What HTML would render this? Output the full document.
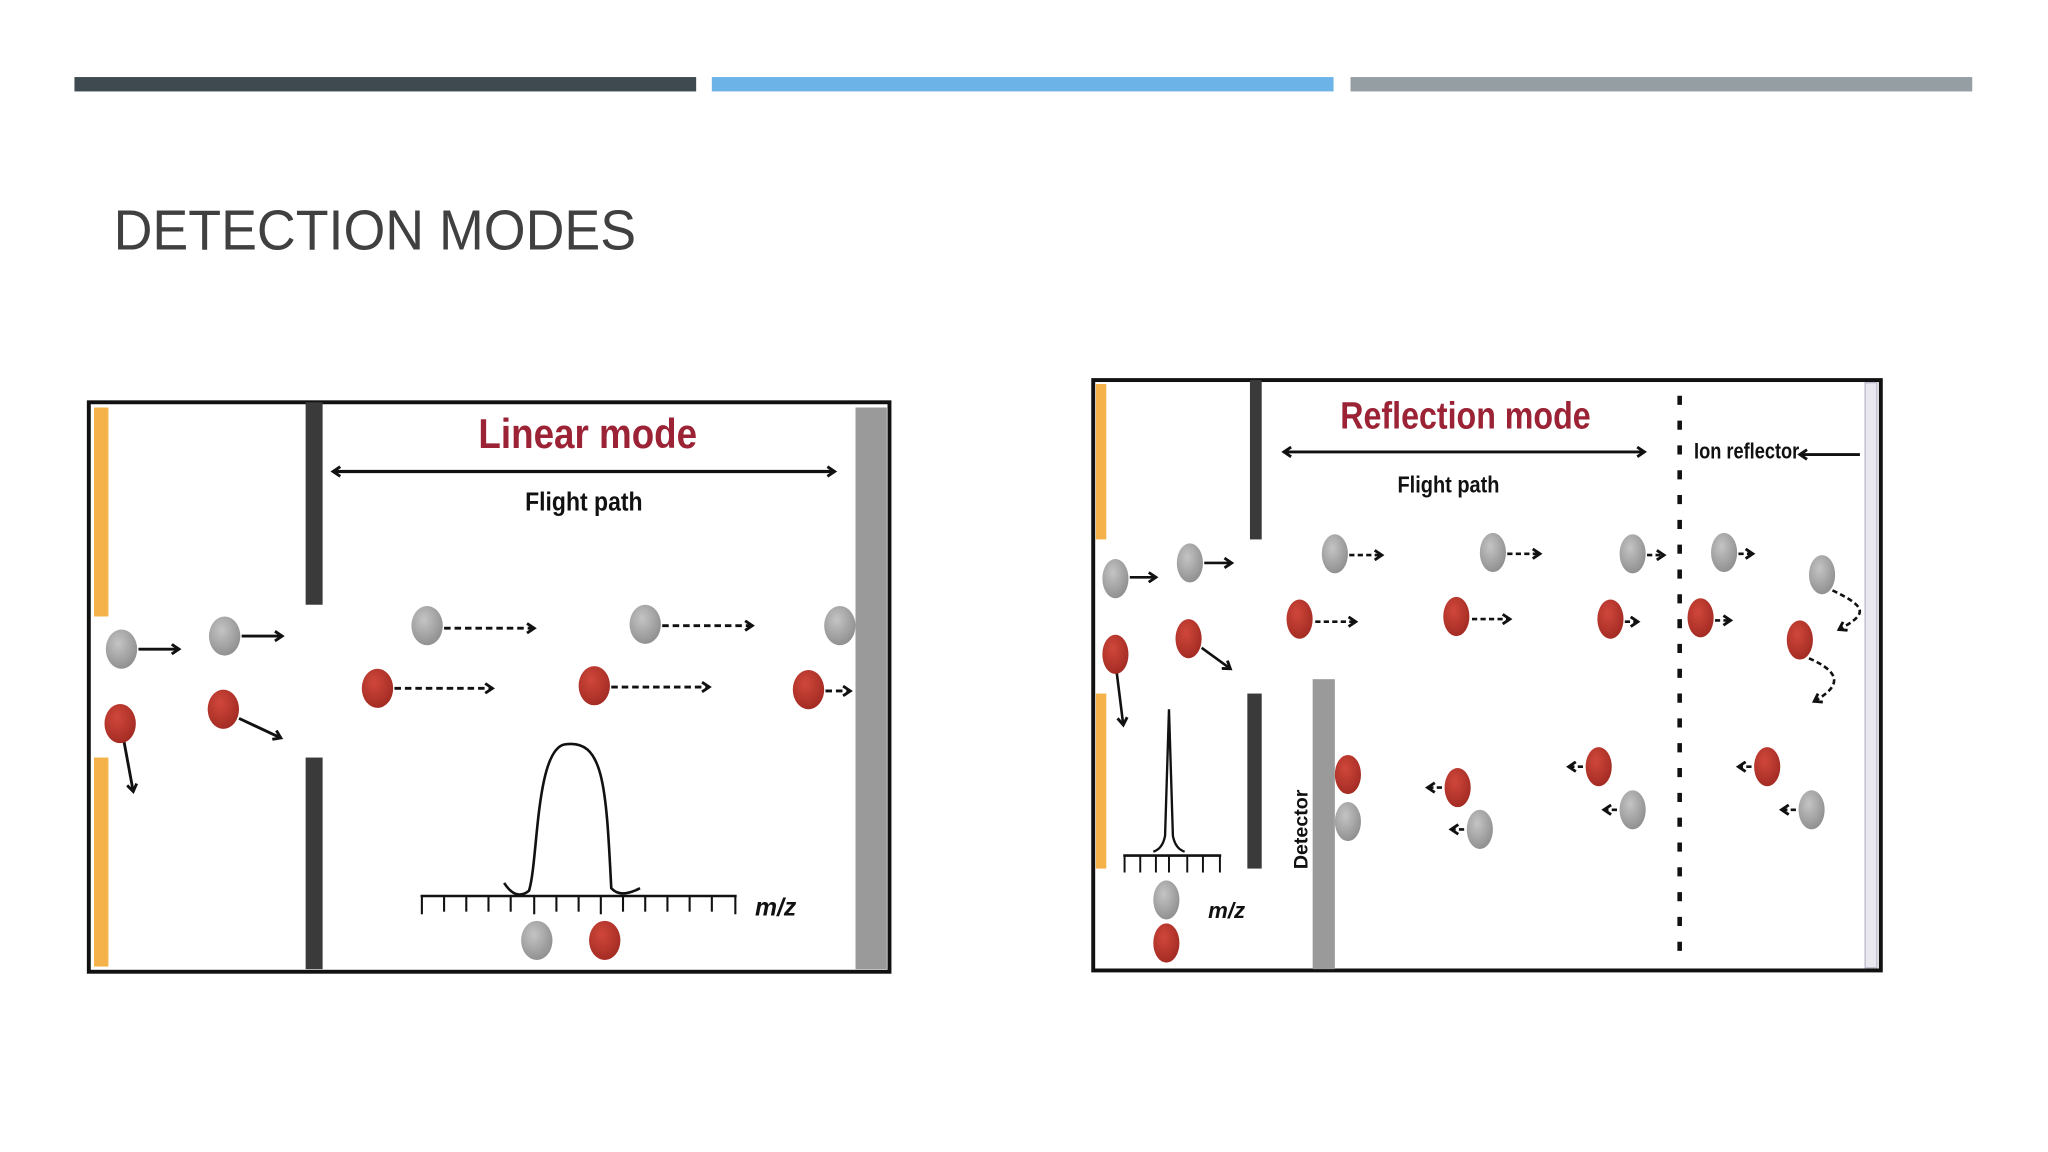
<!DOCTYPE html>
<html><head><meta charset="utf-8"><style>
html,body{margin:0;padding:0;background:#fff;}
svg{display:block;}
text{font-family:"Liberation Sans",sans-serif;}
</style></head><body>
<svg width="2048" height="1152" viewBox="0 0 1568 882" xmlns="http://www.w3.org/2000/svg">
<defs>
<marker id="a" markerWidth="9" markerHeight="9" refX="6.5" refY="4.5" orient="auto-start-reverse" markerUnits="userSpaceOnUse"><path d="M1,0.8 L6.5,4.5 L1,8.2" fill="none" stroke="#111" stroke-width="2.2"/></marker>
<radialGradient id="g" cx="0.4" cy="0.35" r="0.7"><stop offset="0" stop-color="#c4c4c4"/><stop offset="1" stop-color="#8d8d8d"/></radialGradient>
<radialGradient id="r" cx="0.4" cy="0.35" r="0.7"><stop offset="0" stop-color="#d0473b"/><stop offset="1" stop-color="#a12a22"/></radialGradient>
</defs>
<rect x="57" y="59" width="476" height="11" fill="#3e4a50"/>
<rect x="545" y="59" width="476" height="11" fill="#6cb4e8"/>
<rect x="1034" y="59" width="476" height="11" fill="#959ea3"/>
<text x="87" y="191" font-size="43" fill="#404040" textLength="400" lengthAdjust="spacingAndGlyphs">DETECTION MODES</text>

<!-- Left diagram -->
<rect x="68" y="308" width="613" height="436" fill="#fff" stroke="#111" stroke-width="3"/>
<rect x="72" y="312" width="11" height="160" fill="#f6b24a"/>
<rect x="72" y="580" width="11" height="160" fill="#f6b24a"/>
<rect x="234" y="308" width="13" height="155" fill="#3a3a3a"/>
<rect x="234" y="580" width="13" height="162" fill="#3a3a3a"/>
<rect x="655" y="312" width="24" height="430" fill="#9a9a9a"/>
<text x="450" y="343" font-size="32" font-weight="bold" fill="#9b2335" text-anchor="middle" transform="translate(450 0) scale(0.88 1) translate(-450 0)">Linear mode</text>
<line x1="255" y1="361" x2="639" y2="361" stroke="#111" stroke-width="2.5" marker-end="url(#a)" marker-start="url(#a)"/>
<text x="447" y="391" font-size="20" font-weight="bold" fill="#111" text-anchor="middle" transform="translate(447 0) scale(0.88 1) translate(-447 0)">Flight path</text>
<g stroke="#111" stroke-width="2.2" fill="none">
<line x1="106" y1="497" x2="137" y2="497" marker-end="url(#a)"/>
<line x1="185" y1="487" x2="216" y2="487" marker-end="url(#a)"/>
<line x1="95" y1="568" x2="102" y2="606" marker-end="url(#a)"/>
<line x1="183" y1="550" x2="215" y2="565" marker-end="url(#a)"/>
<g stroke-dasharray="5 3">
<line x1="340" y1="481" x2="409" y2="481" marker-end="url(#a)"/>
<line x1="507" y1="479" x2="576" y2="479" marker-end="url(#a)"/>
<line x1="302" y1="527" x2="377" y2="527" marker-end="url(#a)"/>
<line x1="468" y1="526" x2="543" y2="526" marker-end="url(#a)"/>
<line x1="632" y1="529" x2="651" y2="529" marker-end="url(#a)"/>
</g>
</g>
<ellipse cx="93" cy="497" rx="12" ry="15" fill="url(#g)"/>
<ellipse cx="172" cy="487" rx="12" ry="15" fill="url(#g)"/>
<ellipse cx="92" cy="554" rx="12" ry="15" fill="url(#r)"/>
<ellipse cx="171" cy="543" rx="12" ry="15" fill="url(#r)"/>
<ellipse cx="327" cy="479" rx="12" ry="15" fill="url(#g)"/>
<ellipse cx="494" cy="478" rx="12" ry="15" fill="url(#g)"/>
<ellipse cx="643" cy="479" rx="12" ry="15" fill="url(#g)"/>
<ellipse cx="289" cy="527" rx="12" ry="15" fill="url(#r)"/>
<ellipse cx="455" cy="525" rx="12" ry="15" fill="url(#r)"/>
<ellipse cx="619" cy="528" rx="12" ry="15" fill="url(#r)"/>
<path d="M386,676 Q395,690 405,682 C412,660 410,575 432,570 C462,565 464,600 468,680 Q475,688 490,680" fill="none" stroke="#111" stroke-width="2"/>
<line x1="322" y1="686" x2="564" y2="686" stroke="#111" stroke-width="2"/>
<g stroke="#111" stroke-width="1.6">
<line x1="323" y1="686" x2="323" y2="700"/><line x1="340" y1="686" x2="340" y2="698"/><line x1="357" y1="686" x2="357" y2="698"/><line x1="374" y1="686" x2="374" y2="698"/><line x1="391" y1="686" x2="391" y2="698"/><line x1="409" y1="686" x2="409" y2="700"/><line x1="426" y1="686" x2="426" y2="698"/><line x1="443" y1="686" x2="443" y2="698"/><line x1="460" y1="686" x2="460" y2="700"/><line x1="477" y1="686" x2="477" y2="698"/><line x1="494" y1="686" x2="494" y2="698"/><line x1="511" y1="686" x2="511" y2="698"/><line x1="528" y1="686" x2="528" y2="698"/><line x1="545" y1="686" x2="545" y2="698"/><line x1="563" y1="686" x2="563" y2="700"/>
</g>
<text x="578" y="701" font-size="19" font-weight="bold" font-style="italic" fill="#111">m/z</text>
<ellipse cx="411" cy="720" rx="12" ry="15" fill="url(#g)"/>
<ellipse cx="463" cy="720" rx="12" ry="15" fill="url(#r)"/>

<!-- Right diagram -->
<rect x="837" y="291" width="603" height="452" fill="#fff" stroke="#111" stroke-width="3"/>
<rect x="839" y="294" width="8" height="119" fill="#f6b24a"/>
<rect x="839" y="531" width="8" height="134" fill="#f6b24a"/>
<rect x="957" y="291" width="9" height="122" fill="#3a3a3a"/>
<rect x="955" y="531" width="11" height="134" fill="#3a3a3a"/>
<rect x="1005" y="520" width="17" height="222" fill="#9a9a9a"/>
<rect x="1428" y="293" width="9" height="448" fill="#e8e8ee" stroke="#b8b8c8" stroke-width="1"/>
<text x="1001" y="635" font-size="15" font-weight="bold" fill="#111" text-anchor="middle" transform="rotate(-90 1001 635)">Detector</text>
<line x1="1286" y1="303" x2="1286" y2="732" stroke="#111" stroke-width="3.5" stroke-dasharray="7 12"/>
<text x="1122" y="328" font-size="29" font-weight="bold" fill="#9b2335" text-anchor="middle" transform="translate(1122 0) scale(0.85 1) translate(-1122 0)">Reflection mode</text>
<line x1="983" y1="346" x2="1259" y2="346" stroke="#111" stroke-width="2.2" marker-end="url(#a)" marker-start="url(#a)"/>
<text x="1109" y="377" font-size="18" font-weight="bold" fill="#111" text-anchor="middle" transform="translate(1109 0) scale(0.85 1) translate(-1109 0)">Flight path</text>
<text x="1297" y="351" font-size="17" font-weight="bold" fill="#111" transform="translate(1297 0) scale(0.82 1) translate(-1297 0)">Ion reflector</text>
<line x1="1424" y1="348" x2="1378" y2="348" stroke="#111" stroke-width="2.2" marker-end="url(#a)"/>
<g stroke="#111" stroke-width="2" fill="none">
<line x1="865" y1="442" x2="885" y2="442" marker-end="url(#a)"/>
<line x1="922" y1="431" x2="943" y2="431" marker-end="url(#a)"/>
<line x1="855" y1="515" x2="860" y2="555" marker-end="url(#a)"/>
<line x1="920" y1="496" x2="942" y2="512" marker-end="url(#a)"/>
<g stroke-dasharray="4 2.5">
<line x1="1033" y1="425" x2="1058" y2="425" marker-end="url(#a)"/>
<line x1="1154" y1="424" x2="1179" y2="424" marker-end="url(#a)"/>
<line x1="1261" y1="425" x2="1274" y2="425" marker-end="url(#a)"/>
<line x1="1331" y1="424" x2="1342" y2="424" marker-end="url(#a)"/>
<line x1="1007" y1="476" x2="1038" y2="476" marker-end="url(#a)"/>
<line x1="1127" y1="474" x2="1156" y2="474" marker-end="url(#a)"/>
<line x1="1244" y1="476" x2="1254" y2="476" marker-end="url(#a)"/>
<line x1="1313" y1="475" x2="1325" y2="475" marker-end="url(#a)"/>
<path d="M1403,452 C1430,465 1430,470 1408,482" marker-end="url(#a)"/>
<path d="M1385,504 C1410,515 1410,525 1389,537" marker-end="url(#a)"/>
<line x1="1104" y1="603" x2="1093" y2="603" marker-end="url(#a)"/>
<line x1="1121" y1="635" x2="1111" y2="635" marker-end="url(#a)"/>
<line x1="1212" y1="587" x2="1201" y2="587" marker-end="url(#a)"/>
<line x1="1238" y1="620" x2="1228" y2="620" marker-end="url(#a)"/>
<line x1="1341" y1="587" x2="1331" y2="587" marker-end="url(#a)"/>
<line x1="1375" y1="620" x2="1364" y2="620" marker-end="url(#a)"/>
</g>
</g>
<ellipse cx="854" cy="443" rx="10" ry="15" fill="url(#g)"/>
<ellipse cx="911" cy="431" rx="10" ry="15" fill="url(#g)"/>
<ellipse cx="854" cy="501" rx="10" ry="15" fill="url(#r)"/>
<ellipse cx="910" cy="489" rx="10" ry="15" fill="url(#r)"/>
<ellipse cx="1022" cy="424" rx="10" ry="15" fill="url(#g)"/>
<ellipse cx="1143" cy="423" rx="10" ry="15" fill="url(#g)"/>
<ellipse cx="1250" cy="424" rx="10" ry="15" fill="url(#g)"/>
<ellipse cx="1320" cy="423" rx="10" ry="15" fill="url(#g)"/>
<ellipse cx="1395" cy="440" rx="10" ry="15" fill="url(#g)"/>
<ellipse cx="995" cy="474" rx="10" ry="15" fill="url(#r)"/>
<ellipse cx="1115" cy="472" rx="10" ry="15" fill="url(#r)"/>
<ellipse cx="1233" cy="474" rx="10" ry="15" fill="url(#r)"/>
<ellipse cx="1302" cy="473" rx="10" ry="15" fill="url(#r)"/>
<ellipse cx="1378" cy="490" rx="10" ry="15" fill="url(#r)"/>
<ellipse cx="1032" cy="629" rx="10" ry="15" fill="url(#g)"/>
<ellipse cx="1032" cy="593" rx="10" ry="15" fill="url(#r)"/>
<ellipse cx="1116" cy="603" rx="10" ry="15" fill="url(#r)"/>
<ellipse cx="1133" cy="635" rx="10" ry="15" fill="url(#g)"/>
<ellipse cx="1224" cy="587" rx="10" ry="15" fill="url(#r)"/>
<ellipse cx="1250" cy="620" rx="10" ry="15" fill="url(#g)"/>
<ellipse cx="1353" cy="587" rx="10" ry="15" fill="url(#r)"/>
<ellipse cx="1387" cy="620" rx="10" ry="15" fill="url(#g)"/>
<path d="M883,652 Q890,650 892,640 L895,543 L898,640 Q900,650 907,652" fill="none" stroke="#111" stroke-width="1.8"/>
<line x1="860" y1="655" x2="935" y2="655" stroke="#111" stroke-width="2"/>
<g stroke="#111" stroke-width="1.5">
<line x1="861" y1="655" x2="861" y2="668"/><line x1="873" y1="655" x2="873" y2="668"/><line x1="885" y1="655" x2="885" y2="668"/><line x1="895" y1="655" x2="895" y2="668"/><line x1="909" y1="655" x2="909" y2="668"/><line x1="921" y1="655" x2="921" y2="668"/><line x1="934" y1="655" x2="934" y2="668"/>
</g>
<text x="925" y="703" font-size="17" font-weight="bold" font-style="italic" fill="#111">m/z</text>
<ellipse cx="893" cy="689" rx="10" ry="15" fill="url(#g)"/>
<ellipse cx="893" cy="722" rx="10" ry="15" fill="url(#r)"/>
</svg>
</body></html>
